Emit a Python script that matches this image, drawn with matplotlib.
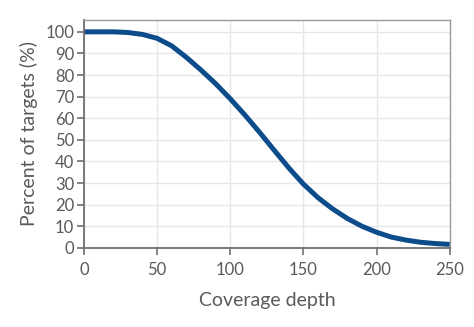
import matplotlib
matplotlib.use("Agg")
import matplotlib.pyplot as plt

# coverage depth vs percent of targets
depth = [0, 10, 20, 30, 40, 50, 60, 70, 80, 90, 100, 110, 120, 130, 140,
         150, 160, 170, 180, 190, 200, 210, 220, 230, 240, 250]
pct = [100, 100, 100, 99.7, 98.8, 97, 93.5, 88.2, 82.3, 76, 69, 61.5, 53.5,
       45.2, 37, 29.5, 23.2, 18, 13.6, 10, 7.2, 5, 3.6, 2.6, 2, 1.6]

xticks = [0, 50, 100, 150, 200, 250]
yticks = list(range(0, 101, 10))

plt.rcParams['font.family'] = ['Lato', 'DejaVu Sans']
txt = '#5a5a5a'

fig = plt.figure(figsize=(4.74, 3.27), dpi=100)
ax = fig.add_axes([0.177, 0.242, 0.772, 0.697])

ax.plot(depth, pct, color='#0d4c8b', lw=3.6, solid_capstyle='butt')

ax.set_xlim(0, 250)
ax.set_ylim(0, 105.5)
ax.set_xticks(xticks)
ax.set_yticks(yticks)
ax.grid(True, color='#e6e6e6', lw=1)
ax.set_axisbelow(True)

for s in ['top', 'right']:
    ax.spines[s].set_color('#9a9a9a')
    ax.spines[s].set_linewidth(1)
for s in ['left', 'bottom']:
    ax.spines[s].set_color('#707070')
    ax.spines[s].set_linewidth(1.3)

ax.tick_params(axis='both', colors='#707070', labelcolor=txt, labelsize=12,
               length=5, width=1.2)
ax.tick_params(axis='x', pad=5)
ax.tick_params(axis='y', pad=2)

ax.set_xlabel('Coverage depth', fontsize=14, color=txt, labelpad=10)
ax.set_ylabel('Percent of targets (%)', fontsize=14, color=txt, labelpad=5)

plt.savefig('out.png', dpi=100)
